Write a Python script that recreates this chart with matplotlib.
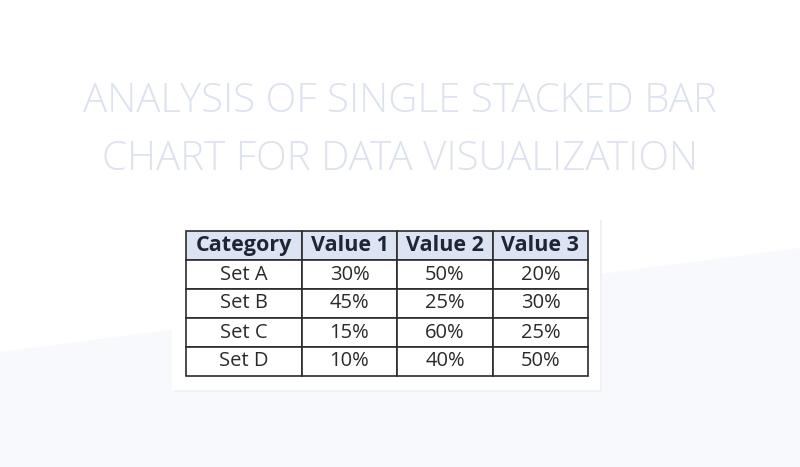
import matplotlib.pyplot as plt
from matplotlib.patches import Rectangle, Polygon

title_lines = ['ANALYSIS OF SINGLE STACKED BAR', 'CHART FOR DATA VISUALIZATION']
columns = ['Category', 'Value 1', 'Value 2', 'Value 3']
categories = ['Set A', 'Set B', 'Set C', 'Set D']
value1 = ['30%', '45%', '15%', '10%']
value2 = ['50%', '25%', '60%', '40%']
value3 = ['20%', '30%', '25%', '50%']

rows = [[c, a, b, d] for c, a, b, d in zip(categories, value1, value2, value3)]

plt.rcParams['font.family'] = ['Open Sans', 'DejaVu Sans']

fig = plt.figure(figsize=(8, 4.67), dpi=100)
ax = fig.add_axes([0, 0, 1, 1])
ax.set_xlim(0, 800)
ax.set_ylim(467, 0)
ax.axis('off')
fig.patch.set_facecolor('white')

# soft background band at the bottom
ax.add_patch(Polygon([(0, 352), (800, 248), (800, 467), (0, 467)],
                     closed=True, facecolor='#f8f9fc', edgecolor='none', zorder=0))

# title
for y, line in zip([102, 160], title_lines):
    ax.text(400, y, line, ha='center', va='center', fontsize=29,
            color='#dde2ef', fontweight='light', zorder=1)

# white card behind the table
ax.add_patch(Rectangle((174, 220), 428, 172, facecolor='#f0f1f5', edgecolor='none', zorder=1))
ax.add_patch(Rectangle((172, 218), 428, 172, facecolor='white', edgecolor='none', zorder=2))

col_px = [116, 95, 96, 95]
total = sum(col_px)
tbl = ax.table(cellText=rows, colLabels=columns, cellLoc='center',
               colWidths=[w / total * (402 / 800) for w in col_px],
               bbox=[186 / 800, (467 - 376) / 467, 402 / 800, 145 / 467], zorder=3)
tbl.auto_set_font_size(False)
for (r, c), cell in tbl.get_celld().items():
    cell.set_edgecolor('#2b2b2b')
    cell.set_linewidth(1.2)
    txt = cell.get_text()
    if r == 0:
        cell.set_facecolor('#dce3f3')
        txt.set_fontweight('bold')
        txt.set_color('#1f2633')
        txt.set_fontsize(15.5)
    else:
        cell.set_facecolor('white')
        txt.set_color('#2a2a2a')
        txt.set_fontsize(14.5)

fig.savefig('out.png', dpi=100)
